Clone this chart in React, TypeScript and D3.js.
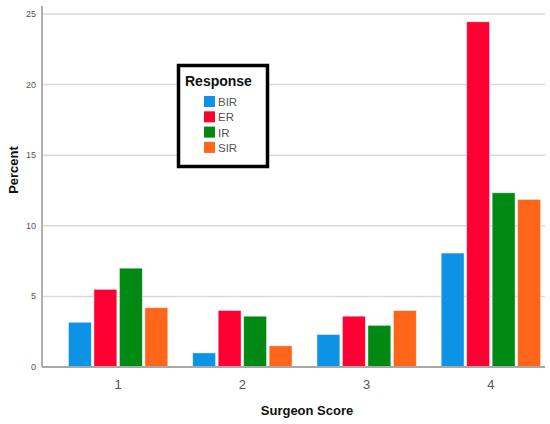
import React, { useEffect, useRef } from 'react';
import * as d3 from 'd3';

const scores = ['1', '2', '3', '4'];
const responses = ['BIR', 'ER', 'IR', 'SIR'];
const colors = ['#0d93e6', '#ff0033', '#008a14', '#ff661a'];
const bir = [3.17, 1.0, 2.3, 8.07];
const er = [5.5, 4.0, 3.6, 24.45];
const ir = [7.0, 3.6, 2.95, 12.34];
const sir = [4.2, 1.5, 4.0, 11.87];
const yTicks = [0, 5, 10, 15, 20, 25];

const App: React.FC = () => {
  const svgRef = useRef<SVGSVGElement>(null);

  useEffect(() => {
    if (!svgRef.current) return;
    const svg = d3.select(svgRef.current);
    svg.selectAll('*').remove();

    const series = [bir, er, ir, sir];
    const left = 42, right = 545, top = 14, bottom = 367;

    const x = d3.scaleBand<string>()
      .domain(scores)
      .range([56, 553])
      .paddingInner(0.2)
      .paddingOuter(0.1);
    const xi = d3.scaleBand<string>()
      .domain(responses)
      .range([0, x.bandwidth()])
      .paddingInner(0.1);
    const y = d3.scaleLinear().domain([0, 25]).range([bottom, top]);

    // grid lines
    svg.append('g')
      .selectAll('line')
      .data(yTicks.filter(t => t > 0))
      .enter()
      .append('line')
      .attr('x1', left)
      .attr('x2', right)
      .attr('y1', d => y(d))
      .attr('y2', d => y(d))
      .attr('stroke', '#d9d9d9')
      .attr('stroke-width', 1.5);

    // y tick labels
    svg.append('g')
      .selectAll('text')
      .data(yTicks)
      .enter()
      .append('text')
      .attr('x', 36)
      .attr('y', d => y(d) + 3)
      .attr('text-anchor', 'end')
      .attr('font-family', 'Arial, Liberation Sans, sans-serif')
      .attr('font-size', 9)
      .attr('fill', '#555')
      .text(d => d);

    // bars
    scores.forEach((s, i) => {
      const g = svg.append('g').attr('transform', `translate(${x(s)},0)`);
      g.selectAll('rect')
        .data(responses.map((r, j) => ({ r, v: series[j][i], c: colors[j] })))
        .enter()
        .append('rect')
        .attr('x', d => xi(d.r)!)
        .attr('y', d => y(d.v))
        .attr('width', xi.bandwidth())
        .attr('height', d => y(0) - y(d.v))
        .attr('fill', d => d.c)
        .attr('stroke', '#fff')
        .attr('stroke-opacity', 0.6)
        .attr('stroke-width', 0.8);
    });

    // axes lines
    svg.append('line')
      .attr('x1', left).attr('x2', left)
      .attr('y1', 6).attr('y2', bottom)
      .attr('stroke', '#b0b0b0').attr('stroke-width', 2);
    svg.append('line')
      .attr('x1', left).attr('x2', right)
      .attr('y1', bottom).attr('y2', bottom)
      .attr('stroke', '#a8a8a8').attr('stroke-width', 2);

    // x tick labels
    svg.append('g')
      .selectAll('text')
      .data(scores)
      .enter()
      .append('text')
      .attr('x', d => x(d)! + x.bandwidth() / 2)
      .attr('y', 389)
      .attr('text-anchor', 'middle')
      .attr('font-family', 'Arial, Liberation Sans, sans-serif')
      .attr('font-size', 13)
      .attr('fill', '#555')
      .text(d => d);

    // axis titles
    svg.append('text')
      .attr('x', 307)
      .attr('y', 415)
      .attr('text-anchor', 'middle')
      .attr('font-family', 'Arial, Liberation Sans, sans-serif')
      .attr('font-size', 13)
      .attr('font-weight', 'bold')
      .attr('fill', '#111')
      .text('Surgeon Score');
    svg.append('text')
      .attr('transform', 'translate(18,170) rotate(-90)')
      .attr('text-anchor', 'middle')
      .attr('font-family', 'Arial, Liberation Sans, sans-serif')
      .attr('font-size', 13)
      .attr('font-weight', 'bold')
      .attr('fill', '#111')
      .text('Percent');

    // legend
    const lg = svg.append('g');
    lg.append('rect')
      .attr('x', 178.5).attr('y', 65.5)
      .attr('width', 89).attr('height', 101)
      .attr('fill', '#fff')
      .attr('stroke', '#000')
      .attr('stroke-width', 3.5);
    lg.append('text')
      .attr('x', 185).attr('y', 86)
      .attr('font-family', 'Arial, Liberation Sans, sans-serif')
      .attr('font-size', 14)
      .attr('font-weight', 'bold')
      .attr('fill', '#111')
      .text('Response');
    const items = lg.selectAll('g.item')
      .data(responses)
      .enter()
      .append('g')
      .attr('transform', (_, i) => `translate(204,${96 + i * 15.3})`);
    items.append('rect')
      .attr('width', 11).attr('height', 11)
      .attr('fill', (_, i) => colors[i]);
    items.append('text')
      .attr('x', 14).attr('y', 10)
      .attr('font-family', 'Arial, Liberation Sans, sans-serif')
      .attr('font-size', 11.5)
      .attr('fill', '#555')
      .text(d => d);
  }, []);

  return <svg ref={svgRef} width={550} height={424} style={{ position: 'absolute', left: 0, top: 0 }} />;
};

export default App;
